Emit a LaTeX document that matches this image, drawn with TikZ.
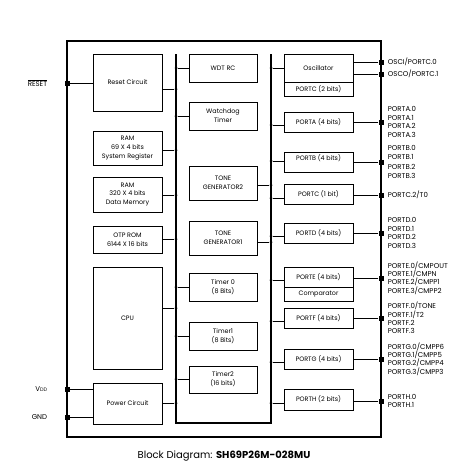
\documentclass[tikz,border=0pt]{standalone}
\usepackage{amsmath}
\usepackage{fontspec}
\setmainfont{Poppins}
\usetikzlibrary{positioning}
\tikzset{
  blk/.style={draw, line width=0.75pt, minimum width=69pt, inner sep=1pt,
    align=center, font=\fontsize{6.4}{8.8}\selectfont},
  pin/.style={fill, rectangle, minimum size=5pt, inner sep=0pt},
  jn/.style={fill, circle, minimum size=3pt, inner sep=0pt},
  wire/.style={line width=0.75pt},
  plbl/.style={align=left, inner sep=0pt, font=\fontsize{7}{8.4}\selectfont},
}

\begin{document}
\begin{tikzpicture}[x=1pt,y=-1pt]
    \useasboundingbox (0,0) rectangle (474,474);
    \draw[line width=1.1pt] (67,41) rectangle (381,437);
    \draw[line width=1.1pt] (176,54) -- (176,423) -- (271,423) -- (271,54);
    % bus junctions
    \foreach \y/\n in {68/wdt,89/rst,116/wd,150/ramA,195/ramB,239/otp,287/tmA,308/cpu,336/tmB,379/tmC,403/pwr}
        \node[jn] (l\n) at (176,\y) {};
    \foreach \y/\n in {68/osc,125/pa,161/pb,185/tgB,198/pc,236/pd,242/tgA,280/pe,321/pf,362/pg,403/ph}
        \node[jn] (r\n) at (271,\y) {};
    % pins
    \foreach \y/\n in {62/xi,74/xo,122/pa,162/pb,195/pc,233/pd,278/pe,318/pf,359/pg,401/ph}
        \node[pin] (o\n) at (381,\y) {};
    \node[pin] (irst) at (67,83) {};
    \node[pin] (ivdd) at (67,389) {};
    \node[pin] (ignd) at (67,417) {};
    % left column
    \node[blk, minimum height=57pt] (rstc) at (127.5,82.5) {Reset Circuit};
    \node[blk, minimum height=34pt] (ramA) at (127.5,148) {RAM\\69 X 4 bits\\System Register};
    \node[blk, minimum height=35pt] (ramB) at (127.5,194.5) {RAM\\320 X 4 bits\\Data Memory};
    \node[blk, minimum height=27pt] (otp) at (127.5,239.5) {OTP ROM\\6144 X 16 bits};
    \node[blk, minimum height=102pt] (cpu) at (127.5,318) {CPU};
    \node[blk, minimum height=41pt] (pwrc) at (127.5,403.5) {Power Circuit};
    % middle column
    \node[blk, minimum width=68pt, minimum height=28pt] (wdtrc) at (223,68) {WDT RC};
    \node[blk, minimum width=68pt, minimum height=28pt] (wdt) at (223,116) {Watchdog\\Timer};
    \node[blk, minimum width=68pt, minimum height=34pt] (tgB) at (223,183) {TONE\\GENERATOR2};
    \node[blk, minimum width=68pt, minimum height=34pt] (tgA) at (223,238) {TONE\\GENERATOR1};
    \node[blk, minimum width=68pt, minimum height=28pt] (tmA) at (223,287) {Timer 0\\(8 Bits)};
    \node[blk, minimum width=68pt, minimum height=28pt] (tmB) at (223,336) {Timer1\\(8 Bits)};
    \node[blk, minimum width=68pt, minimum height=27pt] (tmC) at (223,379.5) {Timer2\\(16 bits)};
    % right column
    \node[blk, minimum height=28pt] (osc) at (318.5,68) {Oscillator};
    \node[blk, minimum height=14pt] (pc2) at (318.5,89) {PORTC (2 bits)};
    \node[blk, minimum height=20pt] (pa) at (318.5,122) {PORTA (4 bits)};
    \node[blk, minimum height=20pt, text depth=8pt] (pb) at (318.5,162) {PORTB (4 bits)};
    \node[blk, minimum height=20pt] (pc) at (318.5,194) {PORTC (1 bit)};
    \node[blk, minimum height=20pt] (pd) at (318.5,233) {PORTD (4 bits)};
    \node[blk, minimum height=20pt] (pe) at (318.5,277) {PORTE (4 bits)};
    \node[blk, minimum height=14pt] (cmp) at (318.5,294) {Comparator};
    \node[blk, minimum height=20pt] (pf) at (318.5,318) {PORTF (4 bits)};
    \node[blk, minimum height=20pt] (pg) at (318.5,359) {PORTG (4 bits)};
    \node[blk, minimum height=21pt] (ph) at (318.5,399.5) {PORTH (2 bits)};
    % connectors
    \draw[wire] (irst) -- (irst -| rstc.west);
    \draw[wire] (ivdd) -- (ivdd -| pwrc.west);
    \draw[wire] (ignd) -- (ignd -| pwrc.west);
    \foreach \n/\b in {rst/rstc,ramA/ramA,ramB/ramB,otp/otp,cpu/cpu,pwr/pwrc}
        \draw[wire] (\b.east |- l\n) -- (l\n);
    \foreach \n/\b in {wdt/wdtrc,wd/wdt,tmA/tmA,tmB/tmB,tmC/tmC}
        \draw[wire] (l\n) -- (\b.west |- l\n);
    \draw[wire] (tgB.east |- rtgB) -- (rtgB);
    \draw[wire] (tgA.east |- rtgA) -- (rtgA);
    \foreach \n in {osc,pa,pb,pc,pd,pe,pf,pg,ph}
        \draw[wire] (r\n) -- (\n.west |- r\n);
    \draw[wire] (oxi) -- (oxi -| osc.east);
    \draw[wire] (oxo) -- (oxo -| osc.east);
    \foreach \n in {pa,pb,pc,pd,pe,pf,pg,ph}
        \draw[wire] (o\n) -- (o\n -| \n.east);
    % pin labels
    \node[plbl, left=17pt of irst] (lbrst) {$\overline{\mbox{RESET}}$};
    \node[plbl, left=17pt of ivdd] (lbvdd) {V{\fontsize{5}{6}\selectfont DD}};
    \node[plbl, left=17pt of ignd] (lbgnd) {GND};
    \node[plbl, right=4pt of oxi] (lbxi) {OSCI/PORTC.0};
    \node[plbl, right=4pt of oxo] (lbxo) {OSCO/PORTC.1};
    \node[plbl, right=4pt of opa] (lbpa) {PORTA.0\\PORTA.1\\PORTA.2\\PORTA.3};
    \node[plbl, right=4pt of opb, font=\fontsize{7}{9.3}\selectfont] (lbpb) {PORTB.0\\PORTB.1\\PORTB.2\\PORTB.3};
    \node[plbl, right=4pt of opc] (lbpc) {PORTC.2/T0};
    \node[plbl, right=4pt of opd] (lbpd) {PORTD.0\\PORTD.1\\PORTD.2\\PORTD.3};
    \node[plbl, right=4pt of ope] (lbpe) {PORTE.0/CMPOUT\\PORTE.1/CMPN\\PORTE.2/CMPP1\\PORTE.3/CMPP2};
    \node[plbl, right=4pt of opf] (lbpf) {PORTF.0/TONE\\PORTF.1/T2\\PORTF.2\\PORTF.3};
    \node[plbl, right=4pt of opg] (lbpg) {PORTG.0/CMPP6\\PORTG.1/CMPP5\\PORTG.2/CMPP4\\PORTG.3/CMPP3};
    \node[plbl, right=4pt of oph] (lbph) {PORTH.0\\PORTH.1};
    \node[font=\fontsize{10}{12}\selectfont] (cap) at (224,456) {Block Diagram: \textbf{SH69P26M-028MU}};
\end{tikzpicture}
\end{document}
